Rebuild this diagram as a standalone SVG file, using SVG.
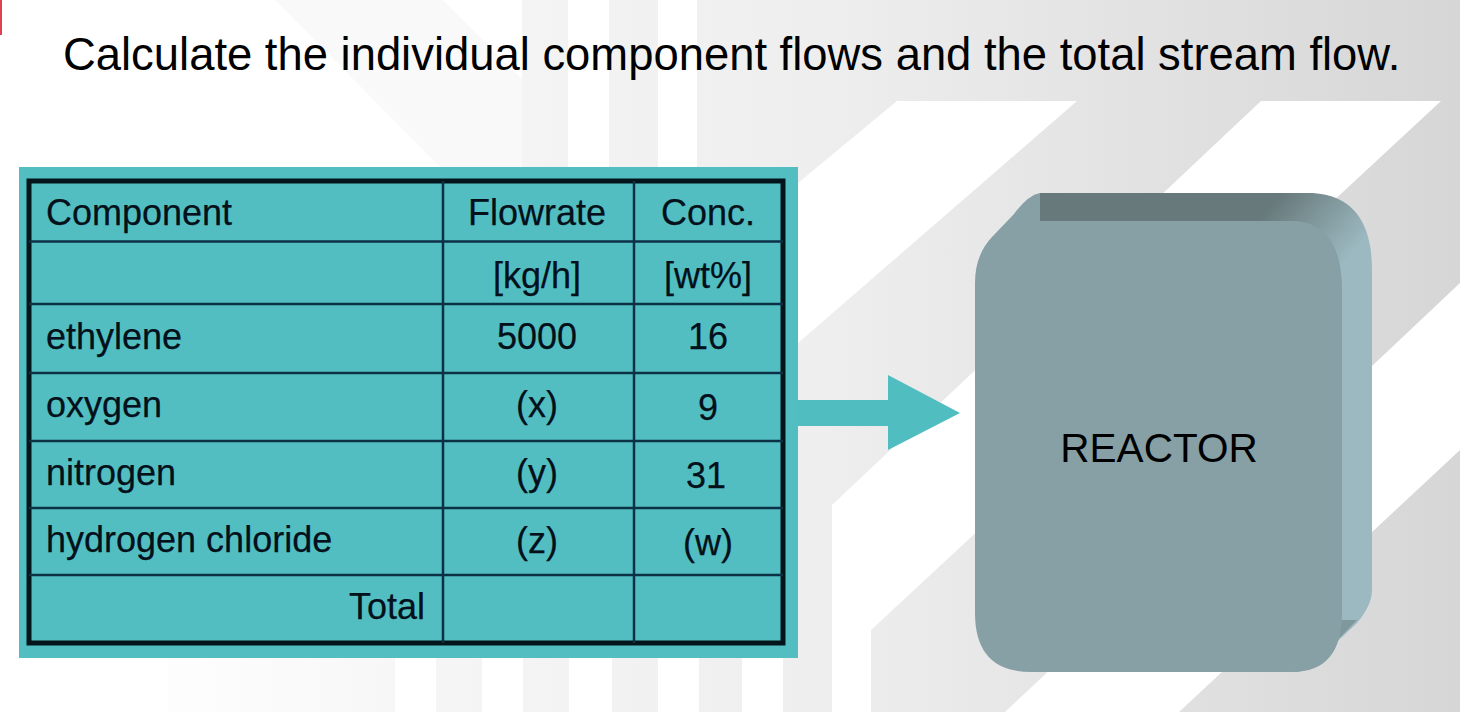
<svg xmlns="http://www.w3.org/2000/svg" width="1460" height="712" viewBox="0 0 1460 712">
<defs>
<linearGradient id="gr" gradientUnits="userSpaceOnUse" x1="400" y1="0" x2="1460" y2="0">
<stop offset="0" stop-color="#f6f6f7"/><stop offset="0.4" stop-color="#eeeeef"/><stop offset="1" stop-color="#d6d6d7"/>
</linearGradient>
<linearGradient id="fade" gradientUnits="userSpaceOnUse" x1="150" y1="0" x2="395" y2="0">
<stop offset="0" stop-color="#fefefe"/><stop offset="1" stop-color="#f7f7f8"/>
</linearGradient>
<linearGradient id="corner" gradientUnits="userSpaceOnUse" x1="1275" y1="200" x2="1345" y2="262">
<stop offset="0" stop-color="#67797a"/><stop offset="1" stop-color="#9cb9c1"/>
</linearGradient>
<style>
text{font-family:"Liberation Sans",Arial,sans-serif;fill:#04101a}
.t{font-size:36px;stroke:#04101a;stroke-width:.25}.m{text-anchor:middle}
.g{stroke:#0c3145;stroke-width:2.500;fill:none}
</style>
</defs>
<g id="background">
<rect width="1460" height="712" fill="#fff"/>
<path d="M275 0L440 167H522V79L443 0Z" fill="#f9f9fa"/>
<rect x="168" y="658" width="227" height="54" fill="url(#fade)"/>
<rect x="436" y="658" width="46" height="54" fill="url(#gr)"/>
<rect x="522" y="0" width="46" height="167" fill="url(#gr)"/><rect x="523" y="658" width="46" height="54" fill="url(#gr)"/>
<rect x="609" y="0" width="49" height="167" fill="url(#gr)"/><rect x="612" y="658" width="46" height="54" fill="url(#gr)"/>
<rect x="697" y="0" width="86" height="167" fill="url(#gr)"/><rect x="699" y="658" width="43" height="54" fill="url(#gr)"/>
<rect x="783" y="0" width="677" height="712" fill="url(#gr)"/>
<rect x="742" y="658" width="41" height="54" fill="#fff"/>
<path d="M897 101H1077L798 343V183Z" fill="#fff"/>
<path d="M1261 101H1441L871 630V712H832V505Z" fill="#fff"/>
<path d="M1460 283V450L1179 712H1005Z" fill="#fff"/>
</g>
<g id="connectors">
<path id="feed-arrow" d="M798 400H888V375L960 413L888 450V426H798Z" fill="#50bdc0"/>
</g>
<g id="feed-table">
<rect x="19" y="167" width="779" height="491" fill="#52bec1"/>
<rect x="29" y="181" width="754" height="462" fill="none" stroke="#03151a" stroke-width="5"/>
<path class="g" d="M29 241.500H783M29 304H783M29 373H783M29 441H783M29 508H783M29 575H783M443 181V643M634 181V643"/>
<text class="t" x="46" y="225">Component</text>
<text class="t m" x="537" y="225">Flowrate</text>
<text class="t m" x="708" y="225">Conc.</text>
<text class="t m" x="537" y="288">[kg/h]</text>
<text class="t m" x="708" y="288">[wt%]</text>
<text class="t" x="46" y="349">ethylene</text>
<text class="t m" x="537" y="349">5000</text>
<text class="t m" x="708" y="349">16</text>
<text class="t" x="46" y="417">oxygen</text>
<text class="t m" x="537" y="417">(x)</text>
<text class="t m" x="708" y="420">9</text>
<text class="t" x="46" y="485">nitrogen</text>
<text class="t m" x="537" y="485">(y)</text>
<text class="t m" x="706" y="488">31</text>
<text class="t" x="46" y="552">hydrogen chloride</text>
<text class="t m" x="537" y="553">(z)</text>
<text class="t m" x="708" y="555">(w)</text>
<text class="t" x="425" y="619" text-anchor="end">Total</text>
</g>
<g id="reactor">
<path d="M1040 193H1313Q1372 197 1372 270V590Q1372 605 1357 623L1326 652Q1310 672 1292 672H1040V193Z" fill="url(#corner)"/>
<path d="M1342 620H1357L1326 652Q1312 670 1296 672Z" fill="#7f989d"/>
<path d="M1031 221H1296Q1342 225 1342 290V613Q1342 672 1292 672H1031Q975 672 975 613V283Q975 255 992 237L1014 214Q1028 195 1040 193V221Z" fill="#87a0a5"/>
<text x="1159" y="462" font-size="40.500" text-anchor="middle" style="fill:#000">REACTOR</text>
</g>
<g id="heading">
<rect x="0" y="0" width="2" height="35" fill="#e04050"/>
<text x="63" y="70" font-size="45.400" style="fill:#000">Calculate the individual component flows and the total stream flow.</text>
</g>
</svg>
